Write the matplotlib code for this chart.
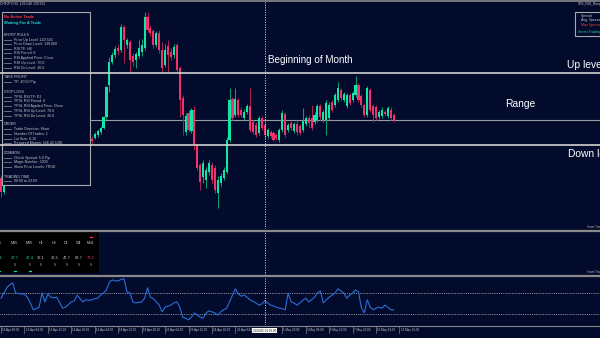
import matplotlib
matplotlib.use("Agg")
import matplotlib.pyplot as plt
import matplotlib.transforms as mtrans
from matplotlib.patches import Rectangle
from matplotlib.lines import Line2D
import numpy as np

# ---------------- data ----------------
opens = [138.40,138.12,138.36,138.66,138.96,139.12,138.96,138.92,138.96,138.84,
         138.76,138.64,138.56,138.76,138.86,138.72,138.84,138.80,138.82,138.76,
         138.60,138.66,138.74,138.80,138.92,138.80,138.84,138.96,139.04,139.16,
         139.22,139.18,139.20,139.26,139.32,139.40,139.62,140.26,140.72,140.86,
         141.00,140.96,141.42,141.06,141.12,140.84,140.76,140.84,140.92,141.00,
         141.62,141.40,141.34,141.06,141.30,140.96,140.66,141.04,140.92,140.86,
         141.06,140.60,140.00,139.32,139.70,139.34,139.76,139.06,138.66,138.42,
         138.36,138.52,138.66,138.60,138.10,138.30,138.40,138.52,139.16,139.98,
         139.66,139.96,139.76,139.60,139.72,139.84,139.52,139.46,139.30,139.60,
         139.46,139.24,139.32,139.30,139.26,139.16,139.36,139.68,139.36,139.50,
         139.34,139.48,139.44,139.36,139.48,139.60,139.60,139.52,139.56,139.84,
         139.56,139.56,139.60,139.92,139.86,139.96,140.16,139.96,139.84,140.06,
         139.96,140.06,140.26,140.04,139.86,139.66,140.16,139.84,139.82,139.62,
         139.64,139.72,139.64,139.76,139.66]
closes = [138.12,138.36,138.66,138.96,139.12,138.96,138.92,138.96,138.84,138.76,
          138.64,138.56,138.76,138.86,138.72,138.84,138.80,138.82,138.76,138.60,
          138.66,138.74,138.80,138.92,138.80,138.84,138.96,139.04,139.14,139.22,
          139.16,139.14,139.28,139.34,139.40,139.62,140.22,140.72,140.86,140.98,
          140.94,141.42,141.16,141.16,140.76,140.72,140.88,141.00,141.06,141.62,
          141.36,141.30,141.06,141.30,140.96,140.60,140.96,140.86,140.82,141.02,
          140.56,139.96,139.66,139.64,139.36,139.76,139.06,138.60,138.32,138.70,
          138.56,138.70,138.36,138.16,138.36,138.44,138.56,139.16,139.96,139.60,
          139.98,139.66,139.66,139.72,139.84,139.36,139.32,139.26,139.60,139.40,
          139.26,139.36,139.24,139.16,139.20,139.36,139.70,139.26,139.46,139.40,
          139.48,139.32,139.30,139.54,139.60,139.50,139.40,139.66,139.84,139.62,
          139.72,139.90,139.86,139.76,140.06,140.20,140.00,140.08,140.06,139.90,
          140.10,140.26,139.96,139.86,139.66,140.20,139.76,139.66,139.60,139.72,
          139.76,139.68,139.80,139.60,139.56]
highs = [138.46,138.40,138.72,139.02,139.20,139.16,139.02,139.04,139.00,138.90,
         138.82,138.72,138.80,138.92,138.90,138.88,138.90,138.88,138.86,138.80,
         138.72,138.78,138.86,138.96,138.96,138.90,139.00,139.10,139.18,139.28,
         139.26,139.24,139.32,139.38,139.44,139.64,140.24,140.82,140.92,141.04,
         141.08,141.48,141.46,141.20,141.16,140.90,140.92,141.16,141.18,141.72,
         141.72,141.46,141.38,141.34,141.36,141.12,141.08,141.16,141.00,141.08,
         141.10,140.64,140.06,139.70,139.76,139.80,139.84,139.10,138.70,138.76,
         138.62,138.76,138.72,138.66,138.44,138.50,138.62,139.22,140.20,140.02,
         140.20,140.00,139.82,139.78,139.88,140.20,139.56,139.52,139.64,139.64,
         139.52,139.40,139.36,139.34,139.30,139.40,139.76,139.72,139.50,139.54,
         139.52,139.56,139.48,139.80,139.64,139.66,139.86,139.72,139.88,139.88,
         139.76,139.96,139.92,139.96,140.10,140.32,140.20,140.12,140.10,140.10,
         140.14,140.44,140.30,140.08,139.90,140.24,140.20,139.88,139.86,139.76,
         139.82,139.76,139.84,139.82,139.70]
lows = [138.02,138.08,138.32,138.62,138.90,138.90,138.84,138.86,138.80,138.70,
        138.60,138.52,138.52,138.70,138.68,138.66,138.76,138.74,138.70,138.56,
        138.56,138.62,138.70,138.76,138.76,138.74,138.80,138.92,139.00,139.10,
        139.06,139.08,139.18,139.22,139.28,139.38,139.58,140.12,140.68,140.80,
        140.86,140.92,140.70,141.00,140.52,140.64,140.60,140.80,140.84,140.96,
        141.32,141.24,141.00,141.02,140.90,140.50,140.62,140.52,140.76,140.80,
        140.52,139.62,139.26,139.26,139.32,139.30,138.96,138.56,138.16,138.30,
        138.20,138.46,138.30,138.10,137.80,138.24,138.36,138.48,139.12,139.56,
        139.62,139.62,139.62,139.56,139.68,139.32,139.28,139.22,139.26,139.36,
        139.20,139.20,139.20,139.14,139.16,139.12,139.32,139.22,139.32,139.36,
        139.30,139.26,139.26,139.32,139.44,139.40,139.36,139.48,139.52,139.56,
        139.52,139.26,139.56,139.72,139.82,139.92,139.96,139.92,139.80,139.86,
        139.92,140.02,139.92,139.82,139.62,139.62,139.72,139.52,139.56,139.58,
        139.60,139.64,139.60,139.56,139.52]
rsi_values = [60,70,80,86,89,70,69,68,68,62, 51,38,40,43,70,53,68,62,61,62,
              52,41,43,48,53,55,66,59,53,57, 56,57,59,60,66,70,76,91,95,93,
              93,96,97,72,70,53,51,52,53,60, 80,62,59,53,47,34,43,45,47,51,
              53,43,24,22,19,24,32,28,24,22, 32,36,34,32,28,34,38,41,53,66,
              78,68,64,66,62,57,54,51,47,49, 55,51,47,45,43,41,40,38,70,53,
              51,47,51,56,60,53,57,62,70,74, 51,57,62,66,70,78,74,70,60,66,
              70,76,72,42,32,57,43,38,41,43, 41,47,43,38,38]

price_up_level = 140.50
price_down_level = 139.06
rsi_up_level = 70
rsi_dn_level = 30
month_start_index = 90
month_start_label = "2024.05.01 00:00"

time_labels = ["10 Apr 20:00", "12 Apr 04:00", "13 Apr 12:00", "14 Apr 20:00",
               "16 Apr 04:00", "18 Apr 12:00", "19 Apr 20:00", "22 Apr 04:00",
               "23 Apr 12:00", "24 Apr 20:00", "26 Apr 04:00", "29 Apr 12:00",
               "1 May 20:00", "3 May 04:00", "6 May 12:00", "7 May 20:00",
               "10 May 04:00", "13 May 12:00"]
label_step = 8

tf_labels = ["M5", "M15", "M30", "H1", "H4", "D1", "W1", "MN1"]
tf_rsi = [25.1, 27.7, 27.4, 32.1, 36.5, 47.7, 63.7, 73.5]

# ---------------- style ----------------
BG = "#020b2c"
BULL = "#12e6a6"
BEAR = "#f2306c"
BULL_W = "#0c9c74"
BEAR_W = "#a8204c"
TXT = "#c8c8c8"
SEP = "#8a8a8a"

plt.rcParams["font.family"] = ["Liberation Sans", "DejaVu Sans"]

W, H = 600, 338
fig = plt.figure(figsize=(6.0, 3.38), dpi=100, facecolor=BG)

def fx(x):
    return x / W

def fy(y):
    return 1 - y / H

def add_axes_px(y0, y1):
    ax = fig.add_axes([0, fy(y1), 1, (y1 - y0) / H])
    ax.set_facecolor(BG)
    for s in ax.spines.values():
        s.set_visible(False)
    ax.set_xticks([])
    ax.set_yticks([])
    return ax

PX0, STEP = 1.0, 2.93
xlim = (-PX0 / STEP, (W - PX0) / STEP)

ax = add_axes_px(2, 229)
ax_mid = add_axes_px(232, 275)
ax_rsi = add_axes_px(278, 325)
for a in (ax, ax_mid, ax_rsi):
    a.set_xlim(*xlim)

# ---------------- main candles ----------------
o = np.array(opens); c = np.array(closes)
h = np.array(highs); l = np.array(lows)
x = np.arange(len(o))
up = c >= o
ax.vlines(x, l, h, colors=np.where(up, BULL_W, BEAR_W), lw=0.75, zorder=2)
ax.bar(x, np.maximum(np.abs(c - o), 0.012), bottom=np.minimum(o, c), width=0.72,
       color=np.where(up, BULL, BEAR), linewidth=0, zorder=2.5)
ax.set_ylim(137.38, 141.92)

ax.axhline(closes[-1], color="#9a9aa2", lw=0.8, zorder=1)
ax.axhline(price_up_level, color="#d2d2d2", lw=1.2, zorder=4)
ax.axhline(price_down_level, color="#d2d2d2", lw=1.2, zorder=4)

vl = dict(color="#e8e8e8", lw=0.7, ls=(0, (1, 1.5)), zorder=4)
for a in (ax, ax_mid, ax_rsi):
    a.axvline(month_start_index, **vl)

# info panel
ax.add_patch(Rectangle((fx(2), fy(185)), fx(88), 173 / H, transform=fig.transFigure,
                       facecolor=BG, edgecolor="#a8a8a8", lw=0.8, zorder=3, clip_on=False))

fig.text(fx(268), fy(60), "Beginning of Month", color="white", fontsize=7.1, va="center")
fig.text(fx(567), fy(65), "Up level", color="white", fontsize=7.4, va="center")
fig.text(fx(505), fy(104), "Range", color="white", fontsize=7.4, va="center")
fig.text(fx(568), fy(154), "Down level", color="white", fontsize=7.4, va="center")

fig.text(fx(0), fy(4), "CHFJPY,H4  139.540 139.552", color=TXT, fontsize=2.4, va="center")
fig.text(fx(578), fy(4), "STS_RSI_Range", color=TXT, fontsize=2.4, va="center")

# panel texts
pf = 2.6
fig.text(fx(4), fy(17), "No Active Trade", color="#ff3838", fontsize=2.9, weight="bold", va="center")
fig.text(fx(4), fy(23), "Waiting For A Trade", color="#22d6c8", fontsize=2.9, weight="bold", va="center")
panel_rows = [
    (35, "ENTRY RULES", True), (40, "Price Up Level: 140.500", False),
    (44, "Price Down Level: 139.060", False), (49, "RSI TF: H4", False),
    (53, "RSI Period: 6", False), (58, "RSI Applied Price: Close", False),
    (63, "RSI Up Level: 70.0", False), (68, "RSI Dn Level: 30.0", False),
    (77, "TAKE PROFIT", True), (82, "TP: 400.0 Pip", False),
    (92, "STOP LOSS", True), (97, "TPSL RSI TF: D1", False),
    (101, "TPSL RSI Period: 6", False), (106, "TPSL RSI Applied Price: Close", False),
    (111, "TPSL RSI Up Level: 70.0", False), (116, "TPSL RSI Dn Level: 30.0", False),
    (124, "ORDER", True), (129, "Trade Direction: Short", False),
    (134, "Number Of Trades: 1", False), (139, "Lot Size: 0.10", False),
    (143, "Required Margin: 526.43 USD", False), (153, "COMMON", True),
    (158, "Check Spread: 5.0 Pip", False), (162, "Magic Number: 3000", False),
    (167, "Show Price Levels: TRUE", False), (177, "TRADING TIME", True),
    (181, "00:00 to 23:59", False),
]
for yy, t, head in panel_rows:
    if head:
        fig.text(fx(4), fy(yy), t, color=TXT, fontsize=pf, va="center")
    else:
        fig.add_artist(Line2D([fx(4), fx(11)], [fy(yy)] * 2, transform=fig.transFigure,
                              color="#9a9a9a", lw=0.5))
        fig.text(fx(14), fy(yy), t, color=TXT, fontsize=pf, va="center")

# top-right spread box
ax.add_patch(Rectangle((fx(575), fy(36)), fx(40), 24 / H, transform=fig.transFigure,
                       facecolor=BG, edgecolor="#a8a8a8", lw=0.8, zorder=3, clip_on=False))
for yy, t, col in [(16, "Spread", TXT), (20.5, "Avg. Spread", TXT),
                   (25, "Max Spread", "#ff3838"), (31.5, "Smart Trading", "#22d6a0")]:
    xx = 578 if t == "Smart Trading" else 581
    fig.text(fx(xx), fy(yy), t, color=col, fontsize=2.6, va="center")

fig.text(fx(587), fy(227), "Smart Trading", color="#b0b0b0", fontsize=2.0, va="center")
fig.text(fx(587), fy(272), "Smart Trading", color="#b0b0b0", fontsize=2.0, va="center")

# ---------------- MTF RSI table ----------------
ax_mid.add_patch(Rectangle((fx(0), fy(273)), fx(99), 41 / H, transform=fig.transFigure,
                           facecolor="black", edgecolor="none", zorder=1, clip_on=False))
col_x = [-1, 14.5, 29.5, 41, 54.5, 66.5, 78.5, 90.5]
for cx, lab, v in zip(col_x, tf_labels, tf_rsi):
    col = "#24e08a" if v < rsi_dn_level else ("#ff2f64" if v > rsi_up_level else TXT)
    fig.text(fx(cx), fy(243), lab, color=TXT, fontsize=2.7, ha="center", va="center")
    fig.text(fx(cx), fy(258), f"{v:.1f}", color=col, fontsize=2.9, ha="center", va="center")
    fig.text(fx(cx), fy(264.5), "N", color="#b0b0b0", fontsize=1.8, ha="center", va="center")
    if v < rsi_dn_level:
        fig.add_artist(Line2D([fx(cx - 1), fx(cx + 1)], [fy(270.5)] * 2,
                              transform=fig.transFigure, color="#24e08a", lw=0.9))
    if v > rsi_up_level:
        fig.add_artist(Line2D([fx(cx - 1), fx(cx + 1)], [fy(236.5)] * 2,
                              transform=fig.transFigure, color="#ff2f64", lw=0.9))

# ---------------- RSI window ----------------
ax_rsi.plot(np.arange(len(rsi_values)), rsi_values, color="#2a6fd6", lw=0.8, zorder=3)
ax_rsi.set_ylim(9.0, 98.6)
for lev in (rsi_up_level, rsi_dn_level):
    ax_rsi.axhline(lev, color="#b4b4b4", lw=0.6, ls=(0, (1, 1.2)), zorder=2)

# ---------------- separators ----------------
for yy, lw in [(0.6, 1.2), (230.5, 1.6), (276.3, 1.6), (326.0, 0.8)]:
    fig.add_artist(Line2D([0, 1], [fy(yy)] * 2, transform=fig.transFigure, color=SEP, lw=lw))

# ---------------- time axis ----------------
bt = mtrans.blended_transform_factory(ax_rsi.transData, fig.transFigure)
for k, lab in enumerate(time_labels):
    xi = k * label_step
    if abs(xi - month_start_index) < 5:
        continue
    ax_rsi.plot([xi, xi], [fy(326), fy(333)], transform=bt, color="#a0a0a0", lw=0.4,
                clip_on=False)
    ax_rsi.text(xi + 0.4, fy(330.5), lab, transform=bt, color=TXT, fontsize=2.2,
                va="center", ha="left", clip_on=False)
ax_rsi.text(month_start_index, fy(330.5), month_start_label, transform=bt, color="#101010",
            fontsize=2.2, va="center", ha="center", clip_on=False,
            bbox=dict(boxstyle="square,pad=0.3", facecolor="white", edgecolor="none"))

fig.savefig("out.png", dpi=100, facecolor=BG)
